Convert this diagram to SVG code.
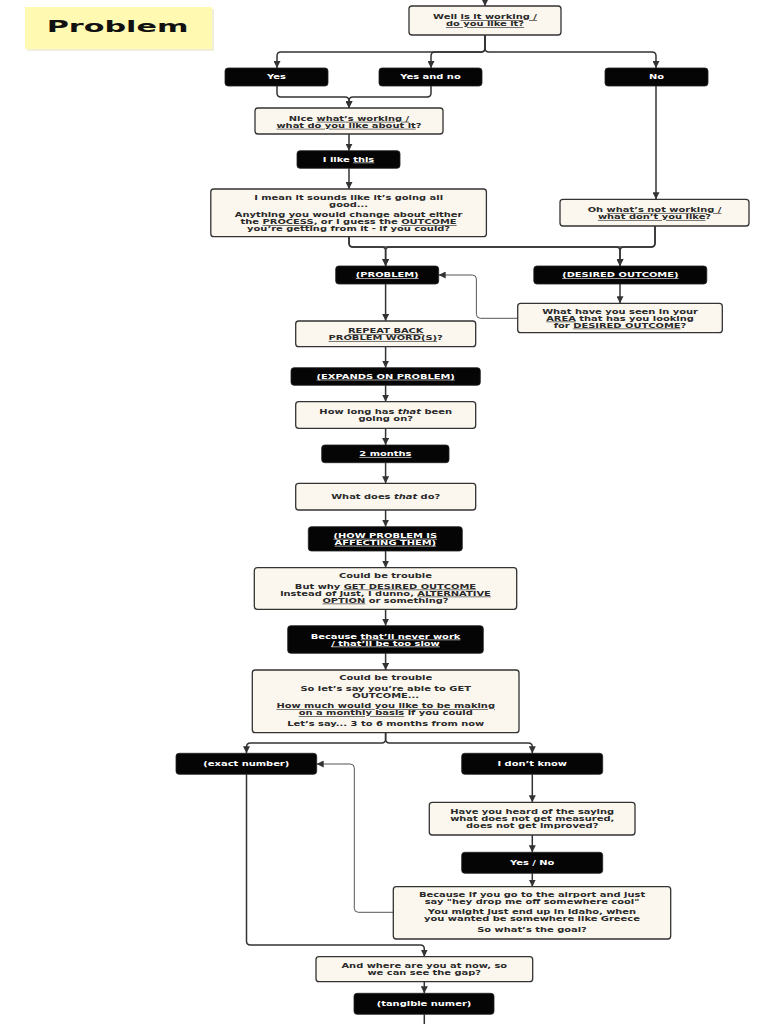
<svg xmlns="http://www.w3.org/2000/svg" width="768" height="1024" viewBox="0 0 768 1024">
<defs>
<marker id="ah" viewBox="0 0 10 10" refX="10" refY="5" markerWidth="7" markerHeight="7" markerUnits="userSpaceOnUse" orient="auto"><path d="M0,0 L10,5 L0,10 z" fill="#333"/></marker>
<style>
.n{fill:#fbf7ef;stroke:#333;stroke-width:1.3}
.b{fill:#050505;stroke:#222;stroke-width:0.8}
.t{font-family:"DejaVu Sans",sans-serif;font-weight:bold;font-size:6.4px;text-anchor:middle;fill:#2a2a2a}
.w{font-family:"DejaVu Sans",sans-serif;font-weight:bold;font-size:6.4px;text-anchor:middle;fill:#fff}
.u{text-decoration:underline}
.i{font-style:italic}
.c{fill:none;stroke:#333;stroke-width:1.5}
.f{fill:none;stroke:#555;stroke-width:1}
</style>
</defs>
<rect width="768" height="1024" fill="#fff"/>
<g id="title">
<rect x="27" y="9" width="187" height="42" fill="#e8e4c0" opacity="0.6"/>
<rect x="25" y="7" width="187" height="42" fill="#fff9b1"/>
<g transform="translate(117.5 0) scale(1.95 1)"><text x="0" y="31.7" font-family="DejaVu Sans,sans-serif" font-weight="bold" font-size="15.5" text-anchor="middle" fill="#111">Problem</text></g>
</g>
<g id="connectors">
<path class="c" d="M485,0 V6" marker-end="url(#ah)"/>
<path class="c" d="M485,35 V48 Q485,52 481,52 H281 Q277,52 277,56 V68" marker-end="url(#ah)"/>
<path class="c" d="M485,35 V48 Q485,52 481,52 H435 Q431,52 431,56 V68" marker-end="url(#ah)"/>
<path class="c" d="M485,35 V48 Q485,52 489,52 H652 Q656,52 656,56 V68" marker-end="url(#ah)"/>
<path class="c" d="M277,86 V93 Q277,97 281,97 H345 Q349,97 349,101 V108" marker-end="url(#ah)"/>
<path class="c" d="M431,86 V93 Q431,97 427,97 H353 Q349,97 349,101 V108" marker-end="url(#ah)"/>
<path class="c" d="M349,134 V150.7" marker-end="url(#ah)"/>
<path class="c" d="M349,168.3 V189" marker-end="url(#ah)"/>
<path class="c" d="M656,86 V199.3" marker-end="url(#ah)"/>
<path class="c" d="M349,236.7 V243 Q349,247 353,247 H381.6 Q385.6,247 385.6,251 V266" marker-end="url(#ah)"/>
<path class="c" d="M349,236.7 V243 Q349,247 353,247 H616 Q620,247 620,251 V266" marker-end="url(#ah)"/>
<path class="c" d="M655,226 V243 Q655,247 651,247 H389.6 Q385.6,247 385.6,251 V266" marker-end="url(#ah)"/>
<path class="c" d="M655,226 V243 Q655,247 651,247 H624 Q620,247 620,251 V266" marker-end="url(#ah)"/>
<path class="c" d="M620,284 V303.3" marker-end="url(#ah)"/>
<path class="f" d="M517.7,318.3 H480.4 Q476.4,318.3 476.4,314.3 V279 Q476.4,275 472.4,275 H438.7" marker-end="url(#ah)"/>
<path class="c" d="M385.6,284 V321" marker-end="url(#ah)"/>
<path class="c" d="M385.6,346.7 V367.7" marker-end="url(#ah)"/>
<path class="c" d="M385.6,385.3 V401.7" marker-end="url(#ah)"/>
<path class="c" d="M385.6,428.3 V445" marker-end="url(#ah)"/>
<path class="c" d="M385.6,462.7 V483.3" marker-end="url(#ah)"/>
<path class="c" d="M385.6,510 V526.7" marker-end="url(#ah)"/>
<path class="c" d="M385.6,551 V567.7" marker-end="url(#ah)"/>
<path class="c" d="M385.6,609.3 V625.7" marker-end="url(#ah)"/>
<path class="c" d="M385.6,653.3 V670" marker-end="url(#ah)"/>
<path class="c" d="M385.6,732.7 V739 Q385.6,743 381.6,743 H250.5 Q246.5,743 246.5,747 V753.3" marker-end="url(#ah)"/>
<path class="c" d="M385.6,732.7 V739 Q385.6,743 389.6,743 H528.3 Q532.3,743 532.3,747 V753.3" marker-end="url(#ah)"/>
<path class="c" d="M532.3,774.3 V802.3" marker-end="url(#ah)"/>
<path class="c" d="M532.3,835 V852.3" marker-end="url(#ah)"/>
<path class="c" d="M532.3,873.3 V886.7" marker-end="url(#ah)"/>
<path class="f" d="M393.3,912.3 H358.3 Q354.3,912.3 354.3,908.3 V768 Q354.3,764 350.3,764 H316.7" marker-end="url(#ah)"/>
<path class="c" d="M246.5,774.3 V941 Q246.5,945 250.5,945 H420.3 Q424.3,945 424.3,949 V956.7" marker-end="url(#ah)"/>
<path class="c" d="M424.3,981.7 V993.3" marker-end="url(#ah)"/>
<path class="c" d="M424.3,1014.3 V1024"/>
</g>
<g id="n1">
<rect class="n" x="409" y="6" width="152" height="29" rx="3"/>
<g transform="translate(485 0) scale(1.55 1)"><text class="t" y="19.4">Well <tspan class="u">is it working /</tspan></text><text class="t" y="26.4"><tspan class="u">do you like it?</tspan></text></g>
</g>
<g id="yes">
<rect class="b" x="225" y="68" width="103" height="18" rx="3"/>
<g transform="translate(276.5 0) scale(1.55 1)"><text class="w" y="79.3">Yes</text></g>
</g>
<g id="yesno">
<rect class="b" x="379" y="68" width="103" height="18" rx="3"/>
<g transform="translate(430.5 0) scale(1.55 1)"><text class="w" y="79.3">Yes and no</text></g>
</g>
<g id="no">
<rect class="b" x="605" y="68" width="103" height="18" rx="3"/>
<g transform="translate(656.5 0) scale(1.55 1)"><text class="w" y="79.3">No</text></g>
</g>
<g id="nice">
<rect class="n" x="255" y="108" width="188" height="26" rx="3"/>
<g transform="translate(349 0) scale(1.55 1)"><text class="t" y="121">Nice <tspan class="u">what’s working /</tspan></text><text class="t" y="128"><tspan class="u">what do you like about it</tspan>?</text></g>
</g>
<g id="ilike">
<rect class="b" x="297" y="150.7" width="103" height="17.6" rx="3"/>
<g transform="translate(348.5 0) scale(1.55 1)"><text class="w" y="161.8">I like <tspan class="u">this</tspan></text></g>
</g>
<g id="imean">
<rect class="n" x="210.8" y="189" width="275.6" height="47.7" rx="3"/>
<g transform="translate(348.6 0) scale(1.55 1)"><text class="t" y="200">I mean it sounds like it’s going all</text><text class="t" y="207">good...</text><text class="t" y="217.5">Anything you would change about either</text><text class="t" y="224.5">the <tspan class="u">PROCESS</tspan>, or I guess the <tspan class="u">OUTCOME</tspan></text><text class="t" y="231.5">you’re getting from it - if you could?</text></g>
</g>
<g id="oh">
<rect class="n" x="560" y="199.3" width="189" height="26.7" rx="3"/>
<g transform="translate(654.5 0) scale(1.55 1)"><text class="t" y="212.2">Oh <tspan class="u">what’s not working /</tspan></text><text class="t" y="219.2"><tspan class="u">what don’t you like</tspan>?</text></g>
</g>
<g id="problem">
<rect class="b" x="335.7" y="266" width="103" height="18" rx="3"/>
<g transform="translate(387.2 0) scale(1.55 1)"><text class="w" y="277.3"><tspan class="u">(PROBLEM)</tspan></text></g>
</g>
<g id="desired">
<rect class="b" x="533.8" y="266" width="173" height="18" rx="3"/>
<g transform="translate(620.3 0) scale(1.55 1)"><text class="w" y="277.3"><tspan class="u">(DESIRED OUTCOME)</tspan></text></g>
</g>
<g id="whathave">
<rect class="n" x="517.7" y="303.3" width="204.6" height="29.4" rx="3"/>
<g transform="translate(620 0) scale(1.55 1)"><text class="t" y="313.8">What have you seen in your</text><text class="t" y="320.8"><tspan class="u">AREA</tspan> that has you looking</text><text class="t" y="327.8">for <tspan class="u">DESIRED OUTCOME</tspan>?</text></g>
</g>
<g id="repeat">
<rect class="n" x="295.7" y="321" width="180" height="25.7" rx="3"/>
<g transform="translate(385.7 0) scale(1.55 1)"><text class="t" y="333.2"><tspan class="u">REPEAT BACK</tspan></text><text class="t" y="340.2"><tspan class="u">PROBLEM WORD(S)</tspan>?</text></g>
</g>
<g id="expands">
<rect class="b" x="291" y="367.7" width="189.3" height="17.6" rx="3"/>
<g transform="translate(385.7 0) scale(1.55 1)"><text class="w" y="378.9"><tspan class="u">(EXPANDS ON PROBLEM)</tspan></text></g>
</g>
<g id="howlong">
<rect class="n" x="295.7" y="401.7" width="180" height="26.6" rx="3"/>
<g transform="translate(385.7 0) scale(1.55 1)"><text class="t" y="414.2">How long has <tspan class="i">that</tspan> been</text><text class="t" y="421.2">going on?</text></g>
</g>
<g id="months">
<rect class="b" x="321.7" y="445" width="127.3" height="17.7" rx="3"/>
<g transform="translate(385.4 0) scale(1.55 1)"><text class="w" y="456.2"><tspan class="u">2 months</tspan></text></g>
</g>
<g id="whatdoes">
<rect class="n" x="295.7" y="483.3" width="180" height="26.7" rx="3"/>
<g transform="translate(385.7 0) scale(1.55 1)"><text class="t" y="499">What does <tspan class="i">that</tspan> do?</text></g>
</g>
<g id="how">
<rect class="b" x="308.3" y="526.7" width="154" height="24.3" rx="3"/>
<g transform="translate(385.3 0) scale(1.55 1)"><text class="w" y="538"><tspan class="u">(HOW PROBLEM IS</tspan></text><text class="w" y="545"><tspan class="u">AFFECTING THEM)</tspan></text></g>
</g>
<g id="could1">
<rect class="n" x="254.3" y="567.7" width="262.4" height="41.6" rx="3"/>
<g transform="translate(385.5 0) scale(1.55 1)"><text class="t" y="578.5">Could be trouble</text><text class="t" y="588.8">But why <tspan class="u">GET DESIRED OUTCOME</tspan></text><text class="t" y="595.8">instead of just, I dunno, <tspan class="u">ALTERNATIVE</tspan></text><text class="t" y="602.8"><tspan class="u">OPTION</tspan> or something?</text></g>
</g>
<g id="because">
<rect class="b" x="287.7" y="625.7" width="195.6" height="27.6" rx="3"/>
<g transform="translate(385.5 0) scale(1.55 1)"><text class="w" y="638.8">Because <tspan class="u">that’ll never work</tspan></text><text class="w" y="645.8"><tspan class="u">/ that’ll be too slow</tspan></text></g>
</g>
<g id="could2">
<rect class="n" x="252.3" y="670" width="266.7" height="62.7" rx="3"/>
<g transform="translate(385.7 0) scale(1.55 1)"><text class="t" y="680.5">Could be trouble</text><text class="t" y="690.8">So let’s say you’re able to GET</text><text class="t" y="697.8">OUTCOME...</text><text class="t" y="708.3"><tspan class="u">How much would you like to be making</tspan></text><text class="t" y="715.3"><tspan class="u">on a monthly basis</tspan> if you could</text><text class="t" y="725.8">Let’s say... 3 to 6 months from now</text></g>
</g>
<g id="exact">
<rect class="b" x="176" y="753.3" width="140.7" height="21" rx="3"/>
<g transform="translate(246.3 0) scale(1.55 1)"><text class="w" y="766.2">(exact number)</text></g>
</g>
<g id="dontknow">
<rect class="b" x="461.7" y="753.3" width="141" height="21" rx="3"/>
<g transform="translate(532.2 0) scale(1.55 1)"><text class="w" y="766.2">I don’t know</text></g>
</g>
<g id="heard">
<rect class="n" x="429.3" y="802.3" width="205.7" height="32.7" rx="3"/>
<g transform="translate(532.2 0) scale(1.55 1)"><text class="t" y="814">Have you heard of the saying</text><text class="t" y="821">what does not get measured,</text><text class="t" y="828">does not get improved?</text></g>
</g>
<g id="yesno2">
<rect class="b" x="461.7" y="852.3" width="141" height="21" rx="3"/>
<g transform="translate(532.2 0) scale(1.55 1)"><text class="w" y="865.2">Yes / No</text></g>
</g>
<g id="airport">
<rect class="n" x="393.3" y="886.7" width="277.4" height="52.3" rx="3"/>
<g transform="translate(532 0) scale(1.55 1)"><text class="t" y="897">Because if you go to the airport and just</text><text class="t" y="904">say "hey drop me off somewhere cool"</text><text class="t" y="914.5">You might just end up in Idaho, when</text><text class="t" y="921.5">you wanted be somewhere like Greece</text><text class="t" y="932">So what’s the goal?</text></g>
</g>
<g id="where">
<rect class="n" x="316" y="956.7" width="216.7" height="25" rx="3"/>
<g transform="translate(424.3 0) scale(1.55 1)"><text class="t" y="968.2">And where are you at now, so</text><text class="t" y="975.2">we can see the gap?</text></g>
</g>
<g id="tangible">
<rect class="b" x="354" y="993.3" width="140" height="21" rx="3"/>
<g transform="translate(424 0) scale(1.55 1)"><text class="w" y="1006.2">(tangible numer)</text></g>
</g>
</svg>
